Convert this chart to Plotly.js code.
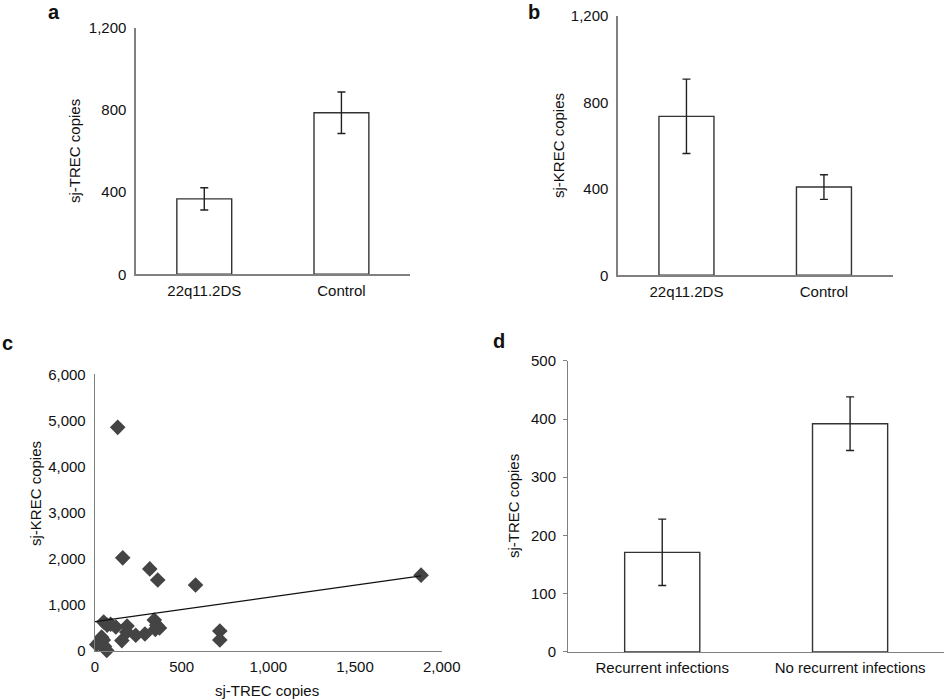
<!DOCTYPE html>
<html>
<head>
<meta charset="utf-8">
<script src="https://cdn.plot.ly/plotly-3.0.1.min.js"></script>
<style>
  html, body { margin: 0; padding: 0; background: #fff; }
  #fig { width: 946px; height: 700px; }
</style>
</head>
<body>
<div id="fig"></div>
<script>
// panel a / b : groups
var groups = ['22q11.2DS', 'Control'];
var trecMean = [367, 786];
var trecErr = [54, 101];
var krecMean = [735, 408];
var krecErr = [172, 57];

// panel c : sj-TREC vs sj-KREC per patient
var scatTrec = [131, 160, 316, 362, 580, 1881, 720, 720,
                50, 70, 90, 120, 185, 183, 155, 235, 288,
                342, 356, 372, 348, 10, 25, 38, 48, 55, 68, 30];
var scatKrec = [4850, 2020, 1780, 1540, 1430, 1645, 434, 240,
                630, 560, 580, 520, 540, 410, 225, 340, 370,
                670, 560, 500, 470, 140, 200, 300, 240, 100, 10, 150];
var trendX = [0, 1881];
var trendY = [636, 1630];

// panel d : infections
var infGroups = ['Recurrent infections', 'No recurrent infections'];
var infMean = [171, 392];
var infErr = [57, 46];

var W = 946, H = 700;
function px(x) { return x / W; }
function py(y) { return 1 - y / H; }

var font = {family: 'Liberation Sans, Arial, sans-serif', size: 15, color: '#111111'};
var axisColor = '#808080';

function barTrace(x, y, err, xa, ya) {
    return {
        type: 'bar',
        x: x,
        y: y,
        xaxis: xa,
        yaxis: ya,
        marker: {color: '#ffffff', line: {color: '#333333', width: 1.4}},
        error_y: {type: 'data', array: err, visible: true, color: '#222222', thickness: 1.4, width: 4},
        hoverinfo: 'none'
    };
}

var traces = [
    barTrace(groups, trecMean, trecErr, 'x', 'y'),
    barTrace(groups, krecMean, krecErr, 'x2', 'y2'),
    {
        type: 'scatter',
        mode: 'markers',
        x: scatTrec,
        y: scatKrec,
        xaxis: 'x3',
        yaxis: 'y3',
        cliponaxis: false,
        marker: {symbol: 'diamond', size: 12, color: '#444444', line: {width: 0}}
    },
    {
        type: 'scatter',
        mode: 'lines',
        x: trendX,
        y: trendY,
        xaxis: 'x3',
        yaxis: 'y3',
        line: {color: '#111111', width: 1.3}
    },
    barTrace(infGroups, infMean, infErr, 'x4', 'y4')
];

function catAxis(domain, anchor) {
    return {
        domain: domain, anchor: anchor, type: 'category',
        showline: true, linecolor: axisColor, linewidth: 1.3,
        showgrid: false, zeroline: false, ticks: '',
        ticklabelstandoff: 2, fixedrange: true
    };
}

function numAxis(domain, anchor, range, dtick, ticks, standoff) {
    return {
        domain: domain, anchor: anchor, range: range, dtick: dtick,
        tickformat: ',', showline: true, linecolor: axisColor, linewidth: 1.3,
        showgrid: false, zeroline: false,
        ticks: ticks ? 'outside' : '', ticklen: 4, tickcolor: axisColor,
        ticklabelstandoff: standoff, fixedrange: true
    };
}

function ann(text, x, y, opts) {
    var a = {
        text: text, x: px(x), y: py(y), xref: 'paper', yref: 'paper',
        xanchor: 'center', yanchor: 'middle', showarrow: false, font: font
    };
    for (var k in opts) a[k] = opts[k];
    return a;
}

var bold = {family: 'Liberation Sans, Arial, sans-serif', size: 20, color: '#111111'};

var layout = {
    width: W,
    height: H,
    margin: {l: 0, r: 0, t: 0, b: 0},
    paper_bgcolor: '#ffffff',
    plot_bgcolor: '#ffffff',
    font: font,
    showlegend: false,
    bargap: 0.6,

    xaxis: catAxis([px(135.7), px(410)], 'y'),
    yaxis: numAxis([py(274.3), py(27.7)], 'x', [0, 1200], 400, false, 5),

    xaxis2: catAxis([px(617.7), px(892.7)], 'y2'),
    yaxis2: numAxis([py(275.3), py(15.8)], 'x2', [0, 1200], 400, false, 5),

    xaxis3: numAxis([px(95), px(441.7)], 'y3', [0, 2000], 500, false, 2),
    yaxis3: numAxis([py(651), py(374.3)], 'x3', [0, 6000], 1000, false, 5),

    xaxis4: catAxis([px(568.3), px(944)], 'y4'),
    yaxis4: numAxis([py(651.9), py(360.8)], 'x4', [0, 500], 100, true, 4),

    annotations: [
        ann('<b>a</b>', 54, 12, {font: bold}),
        ann('<b>b</b>', 534, 12, {font: bold}),
        ann('<b>c</b>', 7, 343, {font: bold}),
        ann('<b>d</b>', 498.5, 341, {font: bold}),
        ann('sj-TREC copies', 74, 151, {textangle: -90}),
        ann('sj-KREC copies', 558, 146, {textangle: -90}),
        ann('sj-KREC copies', 35, 494, {textangle: -90}),
        ann('sj-TREC copies', 267, 690),
        ann('sj-TREC copies', 513, 506, {textangle: -90})
    ]
};

Plotly.newPlot('fig', traces, layout, {displayModeBar: false, staticPlot: true});
</script>
</body>
</html>
